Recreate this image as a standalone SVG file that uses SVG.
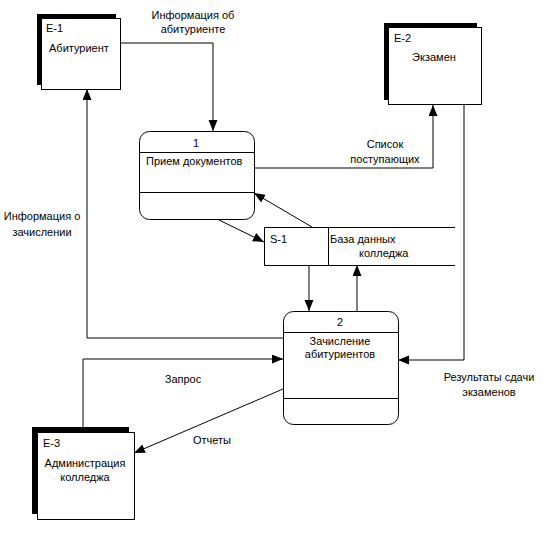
<svg xmlns="http://www.w3.org/2000/svg" width="548" height="547" viewBox="0 0 548 547">
<defs>
<style>
text{font-family:"Liberation Sans",Arial,sans-serif;font-size:11px;fill:#000}
.c{text-anchor:middle}
.box{fill:#fff;stroke:#000;stroke-width:1}
.sh{fill:#000}
.ln{fill:none;stroke:#000;stroke-width:1}
.ar{fill:none;stroke:#000;stroke-width:1;marker-end:url(#ah)}
</style>
<marker id="ah" markerUnits="userSpaceOnUse" markerWidth="12" markerHeight="10" refX="11" refY="4.5" orient="auto">
<path d="M0,0 L11,4.5 L0,9 Z" fill="#000"/>
</marker>
</defs>
<rect width="548" height="547" fill="#fff"/>
<g id="connectors">
<path class="ar" d="M120,43 H213 V131"/>
<path class="ar" d="M254,168 H433 V105"/>
<path class="ar" d="M464,105 V360 H398"/>
<path class="ar" d="M283,338 H87 V89"/>
<path class="ar" d="M83,428 V359 H283"/>
<path class="ar" d="M283,389 L134,453"/>
<path class="ar" d="M217,219 L264,242"/>
<path class="ar" d="M312,227 L254,193"/>
<path class="ar" d="M309,265 V311"/>
<path class="ar" d="M357,311 V265"/>
<text class="c" x="193" y="19">Информация об</text>
<text class="c" x="193" y="33">абитуриенте</text>
<text class="c" x="385" y="148">Список</text>
<text class="c" x="385" y="163">поступающих</text>
<text class="c" x="42" y="220">Информация о</text>
<text class="c" x="42" y="236">зачислении</text>
<text class="c" x="489" y="381">Результаты сдачи</text>
<text class="c" x="489" y="396">экзаменов</text>
<text class="c" x="183" y="383">Запрос</text>
<text class="c" x="212" y="444">Отчеты</text>
</g>
<g id="E-1">
<rect class="sh" x="37" y="14" width="79" height="71"/>
<rect class="box" x="41.5" y="18.5" width="79" height="71"/>
<text x="46" y="32">E-1</text>
<text x="49" y="52">Абитуриент</text>
</g>
<g id="E-2">
<rect class="sh" x="384" y="23" width="93" height="77"/>
<rect class="box" x="388.5" y="27.5" width="93" height="77"/>
<text x="394" y="42">E-2</text>
<text class="c" x="434" y="61">Экзамен</text>
</g>
<g id="E-3">
<rect class="sh" x="32" y="427" width="97" height="87"/>
<rect class="box" x="37.5" y="432.5" width="97" height="87"/>
<text x="43" y="447">E-3</text>
<text class="c" x="85" y="467">Администрация</text>
<text class="c" x="85" y="481">колледжа</text>
</g>
<g id="P-1">
<rect class="box" x="139.5" y="131.5" width="115" height="88" rx="10"/>
<path class="ln" d="M139.5,152.5 H254.5 M139.5,192.5 H254.5"/>
<text class="c" x="196" y="147">1</text>
<text x="146" y="165">Прием документов</text>
</g>
<g id="P-2">
<rect class="box" x="283.5" y="311.5" width="115" height="113" rx="10"/>
<path class="ln" d="M283.5,332.5 H398.5 M283.5,398.5 H398.5"/>
<text class="c" x="340" y="326">2</text>
<text class="c" x="340" y="345">Зачисление</text>
<text class="c" x="340" y="358">абитуриентов</text>
</g>
<g id="S-1">
<path class="ln" d="M455,227.5 H264.5 V265.5 H455 M328.5,227.5 V265.5"/>
<text x="270" y="243">S-1</text>
<text x="330" y="243">База данных</text>
<text x="359" y="257">колледжа</text>
</g>
</svg>
